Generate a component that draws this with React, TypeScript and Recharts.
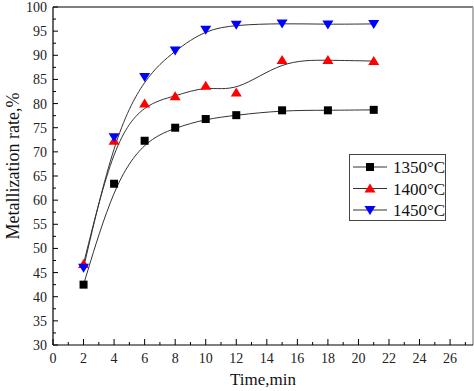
import { LineChart, Line, XAxis, YAxis, Legend, ReferenceLine } from 'recharts';

const times = [2, 4, 6, 8, 10, 12, 15, 18, 21];
const rate1350 = [42.5, 63.4, 72.3, 75.0, 76.8, 77.6, 78.6, 78.6, 78.7];
const rate1400 = [46.8, 72.3, 80.0, 81.5, 83.7, 82.3, 89.0, 89.0, 88.8];
const rate1450 = [46.0, 73.0, 85.5, 91.0, 95.3, 96.3, 96.6, 96.4, 96.5];

const seriesNames = ['1350°C', '1400°C', '1450°C'];
const xTicks = [0, 1, 2, 3, 4, 5, 6, 7, 8, 9, 10, 11, 12, 13, 14, 15, 16, 17, 18, 19, 20, 21, 22, 23, 24, 25, 26, 27];
const yTicks = [30, 32.5, 35, 37.5, 40, 42.5, 45, 47.5, 50, 52.5, 55, 57.5, 60, 62.5, 65, 67.5, 70, 72.5, 75, 77.5, 80, 82.5, 85, 87.5, 90, 92.5, 95, 97.5, 100];

const data = times.map((t, i) => ({
  t,
  s1350: rate1350[i],
  s1400: rate1400[i],
  s1450: rate1450[i],
}));

const FONT = '"Liberation Serif", "Times New Roman", serif';

function Marker({ kind, cx, cy }: { kind: number; cx: number; cy: number }) {
  if (kind === 0) {
    return <rect x={cx - 4} y={cy - 4} width={8} height={8} fill="#000" />;
  }
  if (kind === 1) {
    return <polygon points={`${cx},${cy - 5} ${cx - 5.5},${cy + 4} ${cx + 5.5},${cy + 4}`} fill="#f00" />;
  }
  return <polygon points={`${cx},${cy + 5} ${cx - 5.5},${cy - 4} ${cx + 5.5},${cy - 4}`} fill="#00f" />;
}

const makeDot = (kind: number) => (props: any) => (
  <Marker key={`d${kind}-${props.index}`} kind={kind} cx={props.cx} cy={props.cy} />
);

function XTick({ x, y, payload }: any) {
  const major = payload.value % 2 === 0;
  return (
    <g>
      <line x1={x} x2={x} y1={y} y2={y - (major ? 6 : 3)} stroke="#000" strokeWidth={1} />
      {major ? (
        <text x={x} y={y + 18} textAnchor="middle" fontSize={14} fontFamily={FONT} fill="#222">
          {payload.value}
        </text>
      ) : null}
    </g>
  );
}

function YTick({ x, y, payload }: any) {
  const major = payload.value % 5 === 0;
  return (
    <g>
      <line x1={x} x2={x + (major ? 5 : 3)} y1={y} y2={y} stroke="#000" strokeWidth={1} />
      {major ? (
        <text x={x - 6} y={y + 5} textAnchor="end" fontSize={14} fontFamily={FONT} fill="#222">
          {payload.value}
        </text>
      ) : null}
    </g>
  );
}

function LegendBox() {
  const rows = [0, 1, 2];
  return (
    <div
      style={{
        width: 97,
        height: 67,
        border: '1px solid #444',
        boxSizing: 'border-box',
        background: '#fff',
      }}
    >
      <svg width={95} height={65}>
        {rows.map((k) => {
          const cy = 12 + k * 21.5;
          return (
            <g key={k}>
              <line x1={3} x2={37} y1={cy} y2={cy} stroke="#333" strokeWidth={1} />
              <Marker kind={k} cx={20} cy={cy} />
              <text x={43} y={cy + 6} fontSize={17} fontFamily={FONT} fill="#111">
                {seriesNames[k]}
              </text>
            </g>
          );
        })}
      </svg>
    </div>
  );
}

export default function App() {
  return (
    <div style={{ position: 'absolute', left: 0, top: 0, background: '#fff' }}>
      <LineChart width={474} height={391} data={data} margin={{ top: 7, right: 1, left: 0, bottom: 0 }}>
        <XAxis
          dataKey="t"
          type="number"
          domain={[0, 27.5]}
          ticks={xTicks}
          interval={0}
          height={46}
          tickSize={0}
          tickMargin={0}
          tickLine={false}
          axisLine={{ stroke: '#000', strokeWidth: 1.2 }}
          tick={<XTick />}
          label={{
            value: 'Time,min',
            position: 'center',
            dy: 11,
            style: { fontSize: 17, fontFamily: FONT, fill: '#111' },
          }}
        />
        <YAxis
          type="number"
          domain={[30, 100]}
          ticks={yTicks}
          interval={0}
          width={53}
          tickSize={0}
          tickMargin={0}
          tickLine={false}
          axisLine={{ stroke: '#000', strokeWidth: 1.2 }}
          tick={<YTick />}
          label={{
            value: 'Metallization rate,%',
            position: 'center',
            angle: -90,
            dx: -14,
            dy: -10,
            style: { fontSize: 18, fontFamily: FONT, fill: '#111', textAnchor: 'middle' },
          }}
        />
        <ReferenceLine y={100} stroke="#000" strokeWidth={1.2} />
        <ReferenceLine x={27.5} stroke="#999" strokeWidth={1.5} />
        <Line
          type="basis"
          dataKey="s1350"
          name={seriesNames[0]}
          stroke="#333"
          strokeWidth={1}
          dot={makeDot(0)}
          isAnimationActive={false}
        />
        <Line
          type="basis"
          dataKey="s1400"
          name={seriesNames[1]}
          stroke="#333"
          strokeWidth={1}
          dot={makeDot(1)}
          isAnimationActive={false}
        />
        <Line
          type="basis"
          dataKey="s1450"
          name={seriesNames[2]}
          stroke="#333"
          strokeWidth={1}
          dot={makeDot(2)}
          isAnimationActive={false}
        />
        <Legend
          layout="horizontal"
          verticalAlign="middle"
          align="center"
          wrapperStyle={{ left: 349, top: 154, width: 97, height: 67 }}
          content={() => <LegendBox />}
        />
      </LineChart>
    </div>
  );
}
